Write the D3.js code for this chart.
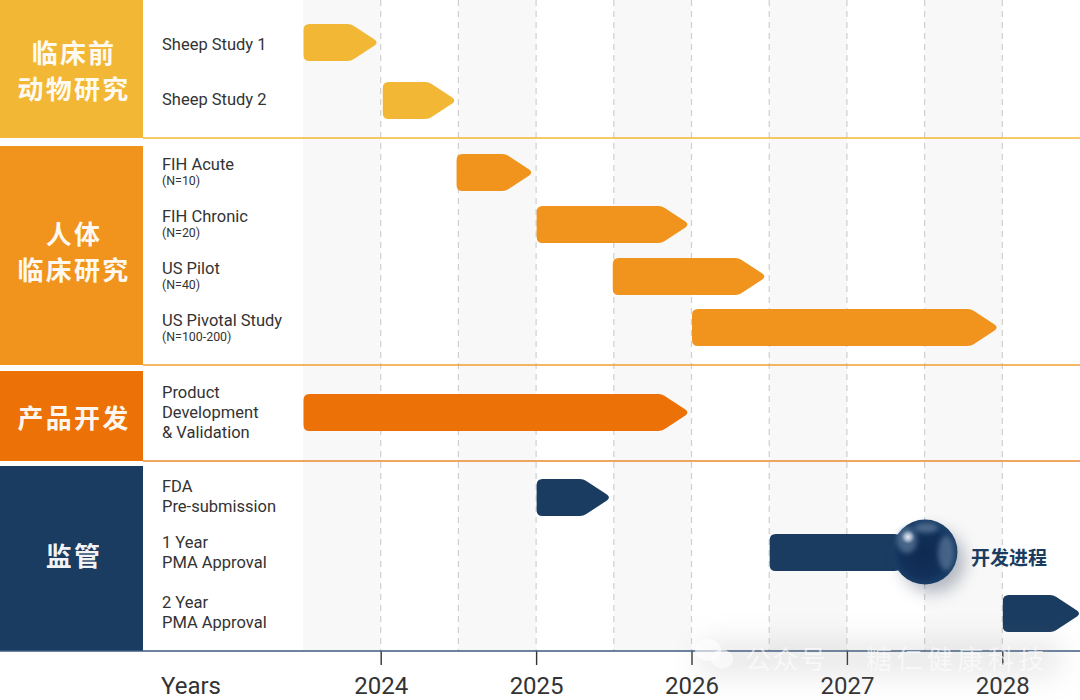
<!DOCTYPE html>
<html><head><meta charset="utf-8">
<script src="https://cdn.jsdelivr.net/npm/d3@7/dist/d3.min.js"></script>
<style>html,body{margin:0;padding:0;background:#fff;overflow:hidden}svg{display:block}</style>
</head><body><svg id="c" width="1080" height="700"></svg>
<script>
const groupNames = [["临床前","动物研究"],["人体","临床研究"],["产品开发"],["监管"]];
const groupColors = ["#f2b835","#f0941e","#ec7208","#1a3c60"];
const rowNames = ["Sheep Study 1","Sheep Study 2","FIH Acute","FIH Chronic","US Pilot","US Pivotal Study","Product Development","FDA Pre-submission","1 Year PMA","2 Year PMA"];
const rowLines = [["Sheep Study 1"],["Sheep Study 2"],["FIH Acute"],["FIH Chronic"],["US Pilot"],["US Pivotal Study"],["Product","Development","& Validation"],["FDA","Pre-submission"],["1 Year","PMA Approval"],["2 Year","PMA Approval"]];
const rowNotes = ["","","(N=10)","(N=20)","(N=40)","(N=100-200)","","","",""];
const rowGroups = [0,0,1,1,1,1,2,3,3,3];
const barStarts = [2023.5,2024.01,2024.485,2025,2025.49,2026,2023.5,2025,2026.5,2028];
const barEnds = [2023.98,2024.48,2024.975,2025.98,2026.475,2027.97,2025.98,2025.475,2027.5,2028.5];
const yearTicks = [2024,2025,2026,2027,2028];
const gridYears = [2024,2024.5,2025,2025.5,2026,2026.5,2027,2027.5,2028];
const bandStarts = [2023.5,2024.5,2025.5,2026.5,2027.5];

const svg = d3.select("#c");
const x = d3.scaleLinear().domain([2023.5,2028.5]).range([303,1080]);
const barY = d3.scaleOrdinal().domain(rowNames).range([42.5,100.5,172.5,224.5,276.5,327.5,412.5,497.5,552.5,613.5]);
const labelY = d3.scaleOrdinal().domain(rowNames).range([44,99,164,216,268,320,392,486,542,602]);
const groupTop = [0,146,371,466], groupBottom = [138,365,461,651];
const sepColors = ["#f2b835","#f1a030","#ec8a30","#3d5a80"];
const groupLineY = [[51,87],[232,268],[416],[554]];
const barH = 37, head = 28, r = 6, axisY = 651;

const defs = svg.append("defs");
const ballG = defs.append("radialGradient").attr("id","ball").attr("cx","48%").attr("cy","52%").attr("r","58%");
[[0,"#0f2a50"],[.6,"#11305a"],[.88,"#1b4069"],[1,"#102847"]].forEach(s=>ballG.append("stop").attr("offset",s[0]).attr("stop-color",s[1]));
const hl = defs.append("radialGradient").attr("id","hl");
[[0,"#eef1f6",1],[.55,"#a9b9ce",.85],[1,"#6d87a6",.15]].forEach(s=>hl.append("stop").attr("offset",s[0]).attr("stop-color",s[1]).attr("stop-opacity",s[2]));
defs.append("filter").attr("id","soft").attr("x","-50%").attr("y","-50%").attr("width","200%").attr("height","200%").append("feGaussianBlur").attr("stdDeviation",8);
defs.append("filter").attr("id","soft1").attr("x","-50%").attr("y","-50%").attr("width","200%").attr("height","200%").append("feGaussianBlur").attr("stdDeviation",2.5);
defs.append("filter").attr("id","soft2").attr("x","-20%").attr("y","-100%").attr("width","140%").attr("height","300%").append("feGaussianBlur").attr("stdDeviation",14);

svg.selectAll("rect.band").data(bandStarts).join("rect").attr("class","band")
  .attr("x",d=>x(d)).attr("width",d=>x(d+.5)-x(d)).attr("y",0).attr("height",axisY).attr("fill","#f8f8f8");
svg.selectAll("line.grid").data(gridYears).join("line").attr("class","grid")
  .attr("x1",d=>x(d)).attr("x2",d=>x(d)).attr("y1",0).attr("y2",axisY)
  .attr("stroke","#cfcfcf").attr("stroke-width",1.2).attr("stroke-dasharray","6 5");
svg.selectAll("line.sep").data(groupBottom.slice(0,3)).join("line").attr("class","sep")
  .attr("x1",143).attr("x2",1080).attr("y1",d=>d).attr("y2",d=>d)
  .attr("stroke",(d,i)=>sepColors[i]).attr("stroke-width",1.4);
svg.selectAll("rect.grp").data(groupNames).join("rect").attr("class","grp")
  .attr("x",0).attr("width",143).attr("y",(d,i)=>groupTop[i]).attr("height",(d,i)=>groupBottom[i]-groupTop[i])
  .attr("fill",(d,i)=>groupColors[i]);
groupNames.forEach((lines,i)=>lines.forEach((t,j)=>{
  svg.append("text").attr("x",74).attr("y",groupLineY[i][j]).attr("text-anchor","middle").attr("dominant-baseline","central")
    .attr("font-family","'Noto Sans CJK SC'").attr("font-weight",700).attr("font-size",26).attr("letter-spacing",2.2)
    .attr("fill","#fff").attr("fill-opacity",.95).text(t);
}));
rowNames.forEach((n,i)=>{
  rowLines[i].forEach((t,j)=>svg.append("text").attr("x",162).attr("y",labelY(n)+j*20).attr("dominant-baseline","central")
    .attr("font-family","Roboto").attr("font-size",16.5).attr("fill","#333").text(t));
  if(rowNotes[i]) svg.append("text").attr("x",162).attr("y",labelY(n)+16.5).attr("dominant-baseline","central")
    .attr("font-family","Roboto").attr("font-size",12.4).attr("fill","#333").text(rowNotes[i]);
});
function arrow(x0,x1,yc){
  const t=yc-barH/2,b=yc+barH/2,s=x1-head,p=d3.path();
  p.moveTo(x0+r,t);p.lineTo(s-2,t);p.quadraticCurveTo(s+1.5,t,s+4,t+1.7);
  p.lineTo(x1-3,yc-3);p.quadraticCurveTo(x1+1,yc,x1-3,yc+3);
  p.lineTo(s+4,b-1.7);p.quadraticCurveTo(s+1.5,b,s-2,b);
  p.lineTo(x0+r,b);p.quadraticCurveTo(x0,b,x0,b-r);p.lineTo(x0,t+r);p.quadraticCurveTo(x0,t,x0+r,t);p.closePath();
  return p.toString();
}
svg.selectAll("path.bar").data(rowNames).join("path").attr("class","bar")
  .attr("d",(n,i)=>arrow(x(barStarts[i])+.5,x(barEnds[i]),barY(n)))
  .attr("fill",(n,i)=>groupColors[rowGroups[i]]);
const axis = d3.axisBottom(x).tickValues(yearTicks).tickFormat(d3.format("d")).tickSize(14).tickSizeOuter(0);
const ag = svg.append("g").attr("transform",`translate(0,${axisY})`).call(axis);
ag.select(".domain").remove();
svg.append("line").attr("x1",0).attr("x2",1080).attr("y1",axisY).attr("y2",axisY).attr("stroke","#3d5a80").attr("stroke-width",1.5);
ag.selectAll(".tick line").attr("stroke","#333").attr("stroke-width",1.4);
ag.selectAll(".tick text").attr("y",43).attr("dy",0).attr("font-family","Roboto").attr("font-size",24).attr("fill","#333");
svg.append("text").attr("x",161).attr("y",694).attr("font-family","Roboto").attr("font-size",24).attr("fill","#333").text("Years");
// progress ball
const bx=925, by=552;
svg.append("circle").attr("cx",bx+8).attr("cy",by+9).attr("r",32).attr("fill","#33425a").attr("opacity",.35).attr("filter","url(#soft)");
svg.append("circle").attr("cx",bx).attr("cy",by).attr("r",32.5).attr("fill","url(#ball)");
svg.append("ellipse").attr("cx",bx+1).attr("cy",by-24).attr("rx",12).attr("ry",5).attr("fill","#6f8cab").attr("opacity",.6).attr("filter","url(#soft1)");
svg.append("ellipse").attr("cx",bx+21).attr("cy",by+1).attr("rx",8).attr("ry",17).attr("fill","#6f8cab").attr("opacity",.55).attr("filter","url(#soft1)");
svg.append("ellipse").attr("cx",bx-18).attr("cy",by-12).attr("rx",10).attr("ry",13).attr("fill","#7f9ab8").attr("opacity",.5).attr("filter","url(#soft1)");
svg.append("ellipse").attr("cx",bx-17).attr("cy",by-15).attr("rx",7).attr("ry",7).attr("fill","url(#hl)");
svg.append("text").attr("x",971).attr("y",556).attr("dominant-baseline","central").attr("font-family","'Noto Sans CJK SC'").attr("font-weight",700).attr("font-size",19).attr("fill","#1a3c60").text("开发进程");
// watermark
svg.append("rect").attr("x",700).attr("y",640).attr("width",360).attr("height",36).attr("fill","#8a8a8a").attr("opacity",.18).attr("filter","url(#soft2)");
const wm = svg.append("g").attr("fill","#fff").attr("fill-opacity",.6);
wm.append("ellipse").attr("cx",708).attr("cy",650).attr("rx",13).attr("ry",11);
wm.append("ellipse").attr("cx",722).attr("cy",659).attr("rx",11).attr("ry",9.5);
wm.append("text").attr("x",745).attr("y",657).attr("dominant-baseline","central").attr("font-family","'Noto Sans CJK SC'").attr("font-size",26).attr("letter-spacing",1.5).text("公众号");
wm.append("text").attr("x",866).attr("y",657).attr("dominant-baseline","central").attr("font-family","'Noto Sans CJK SC'").attr("font-size",26).attr("letter-spacing",4.5).text("糖仁健康科技");
</script></body></html>
